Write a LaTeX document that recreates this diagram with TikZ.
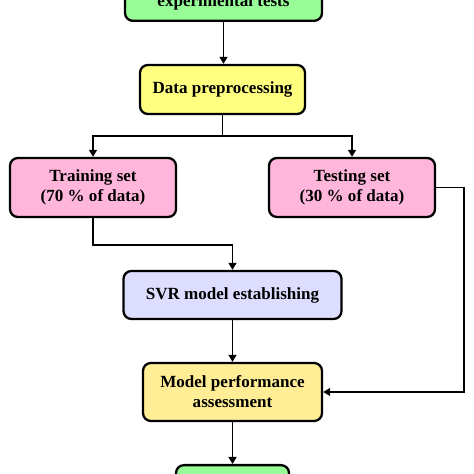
\documentclass[tikz,border=0pt]{standalone}
\usepackage{fontspec}
\setmainfont{Liberation Serif}
\usepackage{tikz}
\usetikzlibrary{
   arrows.meta,
   positioning
}

\definecolor{stepgreen}{RGB}{152,252,152}
\definecolor{stepyellow}{RGB}{255,255,128}
\definecolor{steppink}{RGB}{255,182,218}
\definecolor{steplilac}{RGB}{221,221,255}
\definecolor{stepsand}{RGB}{255,238,150}

\begin{document}
\begin{tikzpicture}[
  every node/.style={font=\fontsize{9.7}{11.4}\selectfont\bfseries},
  stepbox/.style={draw, line width=1.3pt, rounded corners=4.5pt, align=center, inner sep=2pt},
  link/.style={line width=1pt},
  arrow/.style={link, -{Triangle[length=4pt,width=4.5pt]}},
]

\useasboundingbox (0,0) rectangle (9.48,9.48);

% data source (cut by the frame)
\node[stepbox, fill=stepgreen, anchor=south, minimum width=3.94cm,
      text height=1cm, text depth=0.08cm, inner ysep=0.2cm]
  (tests) at (4.47,9.04) {experimental tests};

% preprocessing
\node[stepbox, fill=stepyellow, minimum width=3.3cm, minimum height=0.98cm]
  (prep) at (4.45,7.69) {Data preprocessing};

% split of the data
\node[stepbox, fill=steppink, minimum width=3.32cm, minimum height=1.18cm]
  (train) at (1.86,5.73) {Training set\\(70 \% of data)};
\node[stepbox, fill=steppink, minimum width=3.32cm, minimum height=1.18cm]
  (test) at (7.04,5.73) {Testing set\\(30 \% of data)};

% model
\node[stepbox, fill=steplilac, minimum width=4.36cm, minimum height=0.96cm]
  (svr) at (4.65,3.58) {SVR model establishing};
\node[stepbox, fill=stepsand, minimum width=3.58cm, minimum height=1.16cm]
  (assess) at (4.65,1.64) {Model performance\\assessment};

% result (cut by the frame)
\node[stepbox, fill=stepgreen, anchor=north, minimum width=2.26cm, minimum height=1cm]
  (result) at (4.65,0.2) {};

% connectors
\coordinate (fork) at (4.45,6.76);
\coordinate (join) at (4.65,4.58);
\coordinate (loop) at (9.28,5.73);

\draw[arrow] (tests.south) -- (tests.south |- prep.north);
\draw[link] (prep.south) -- (fork);
\draw[arrow] (fork) -| (train.north);
\draw[arrow] (fork) -| (test.north);
\draw[arrow] (train.south) |- (join) -- (svr.north);
\draw[arrow] (test.east) -- (loop) |- (assess.east);
\draw[arrow] (svr.south) -- (assess.north);
\draw[arrow] (assess.south) -- (result.north);

\end{tikzpicture}
\end{document}
